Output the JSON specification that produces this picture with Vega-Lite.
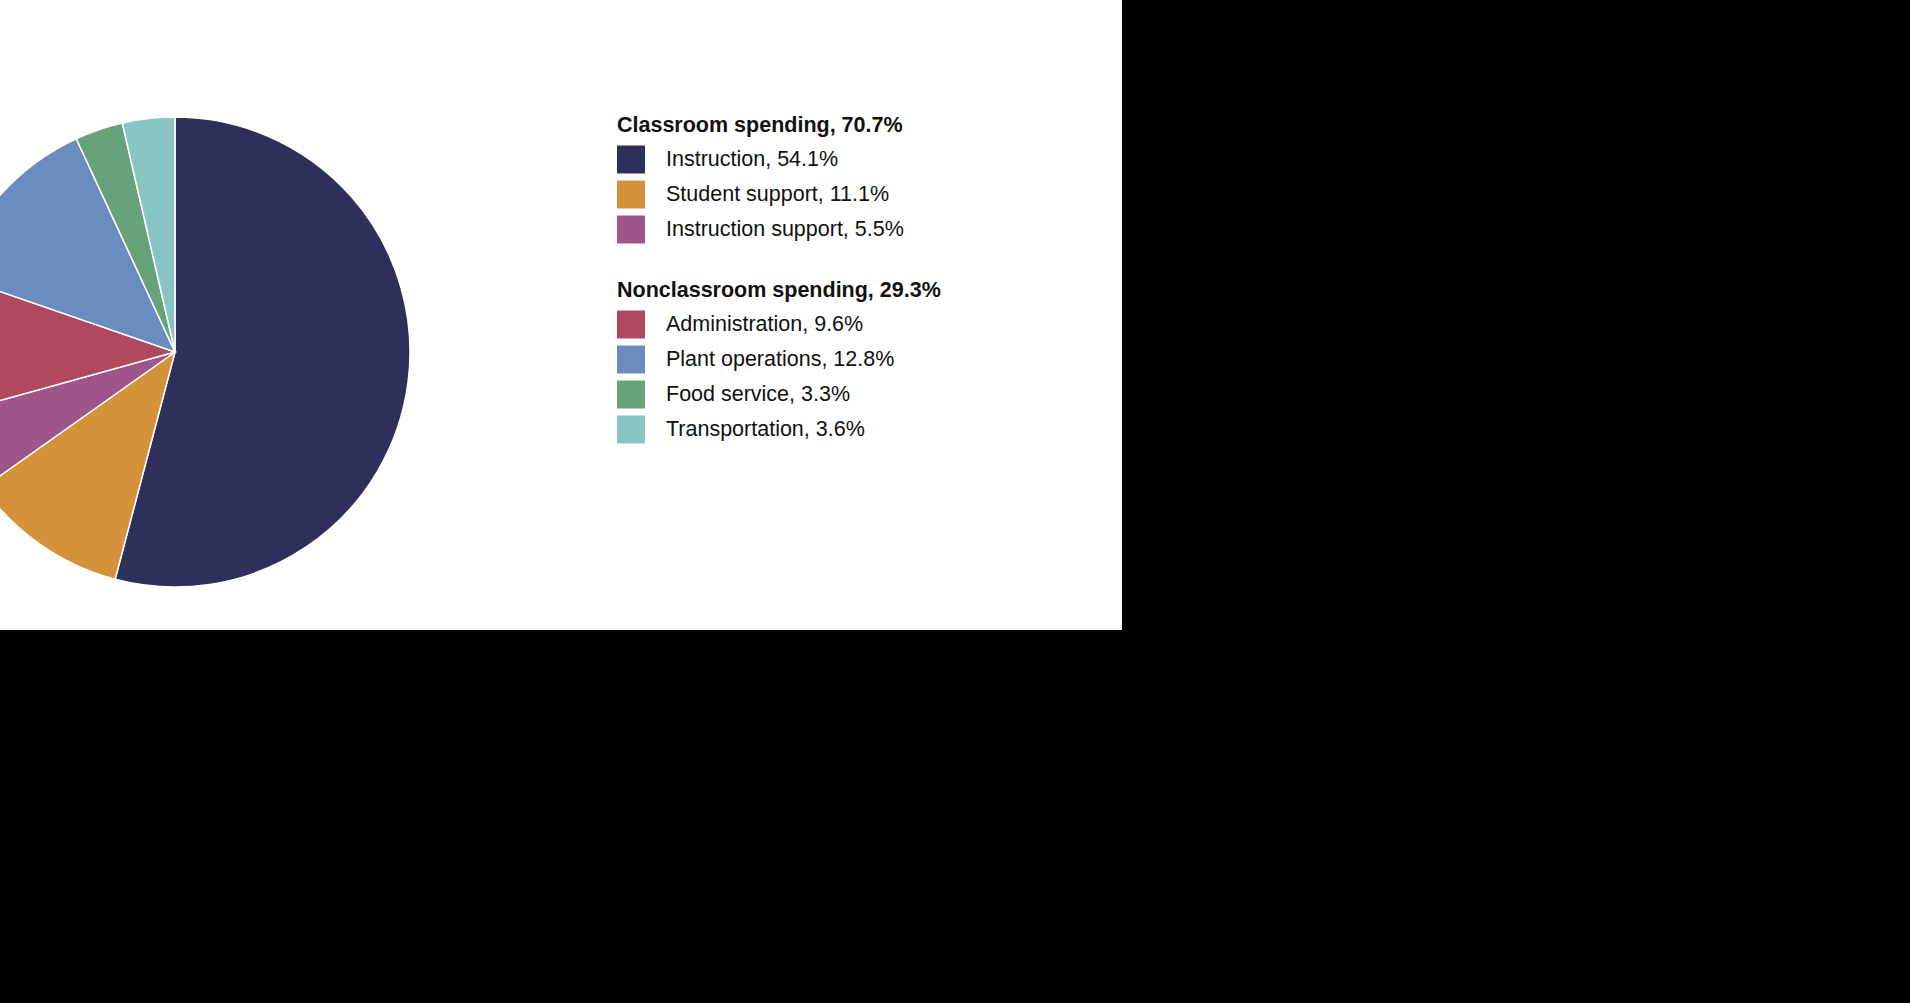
{
  "$schema": "https://vega.github.io/schema/vega-lite/v6.json",
  "width": 1122,
  "height": 630,
  "autosize": {"type": "none"},
  "padding": {"left": 0, "top": 0, "right": 788, "bottom": 373},
  "background": "#000000",
  "view": {"fill": "#ffffff", "stroke": null},
  "config": {
    "font": "Liberation Sans",
    "legend": {
      "symbolType": "square",
      "symbolSize": 784,
      "symbolStrokeWidth": 0,
      "symbolOpacity": 1,
      "labelFont": "Liberation Sans",
      "labelFontSize": 21.5,
      "labelColor": "#111111",
      "labelOffset": 21,
      "labelLimit": 600,
      "titleFont": "Liberation Sans",
      "titleFontSize": 21.5,
      "titleFontWeight": "bold",
      "titleColor": "#111111",
      "titleLimit": 600,
      "titlePadding": 9,
      "rowPadding": 7
    }
  },
  "data": {
    "values": [
      {"order": 1, "group": "Classroom", "category": "Instruction, 54.1%", "pct": 54.1},
      {"order": 2, "group": "Classroom", "category": "Student support, 11.1%", "pct": 11.1},
      {"order": 3, "group": "Classroom", "category": "Instruction support, 5.5%", "pct": 5.5},
      {"order": 4, "group": "Nonclassroom", "category": "Administration, 9.6%", "pct": 9.6},
      {"order": 5, "group": "Nonclassroom", "category": "Plant operations, 12.8%", "pct": 12.8},
      {"order": 6, "group": "Nonclassroom", "category": "Food service, 3.3%", "pct": 3.3},
      {"order": 7, "group": "Nonclassroom", "category": "Transportation, 3.6%", "pct": 3.6}
    ]
  },
  "transform": [
    {"stack": "pct", "groupby": [], "sort": [{"field": "order", "order": "ascending"}], "as": ["p0", "p1"]}
  ],
  "layer": [
    {
      "transform": [{"filter": "datum.group == 'Classroom'"}],
      "mark": {"type": "arc", "x": 175, "y": 352, "outerRadius": 235, "stroke": "#ffffff", "strokeWidth": 1.5},
      "encoding": {
        "theta": {"field": "p0", "type": "quantitative", "scale": {"domain": [0, 100]}},
        "theta2": {"field": "p1"},
        "color": {
          "field": "category",
          "type": "nominal",
          "scale": {
            "domain": ["Instruction, 54.1%", "Student support, 11.1%", "Instruction support, 5.5%"],
            "range": ["#2e2f5a", "#d4923b", "#a0558a"]
          },
          "legend": {"title": "Classroom spending, 70.7%", "orient": "none", "legendX": 617, "legendY": 115}
        }
      }
    },
    {
      "transform": [{"filter": "datum.group == 'Nonclassroom'"}],
      "mark": {"type": "arc", "x": 175, "y": 352, "outerRadius": 235, "stroke": "#ffffff", "strokeWidth": 1.5},
      "encoding": {
        "theta": {"field": "p0", "type": "quantitative", "scale": {"domain": [0, 100]}},
        "theta2": {"field": "p1"},
        "color": {
          "field": "category",
          "type": "nominal",
          "scale": {
            "domain": ["Administration, 9.6%", "Plant operations, 12.8%", "Food service, 3.3%", "Transportation, 3.6%"],
            "range": ["#b0485f", "#6a8cbf", "#67a27a", "#88c4c4"]
          },
          "legend": {"title": "Nonclassroom spending, 29.3%", "orient": "none", "legendX": 617, "legendY": 280}
        }
      }
    }
  ],
  "resolve": {"scale": {"color": "independent"}, "legend": {"color": "independent"}}
}
